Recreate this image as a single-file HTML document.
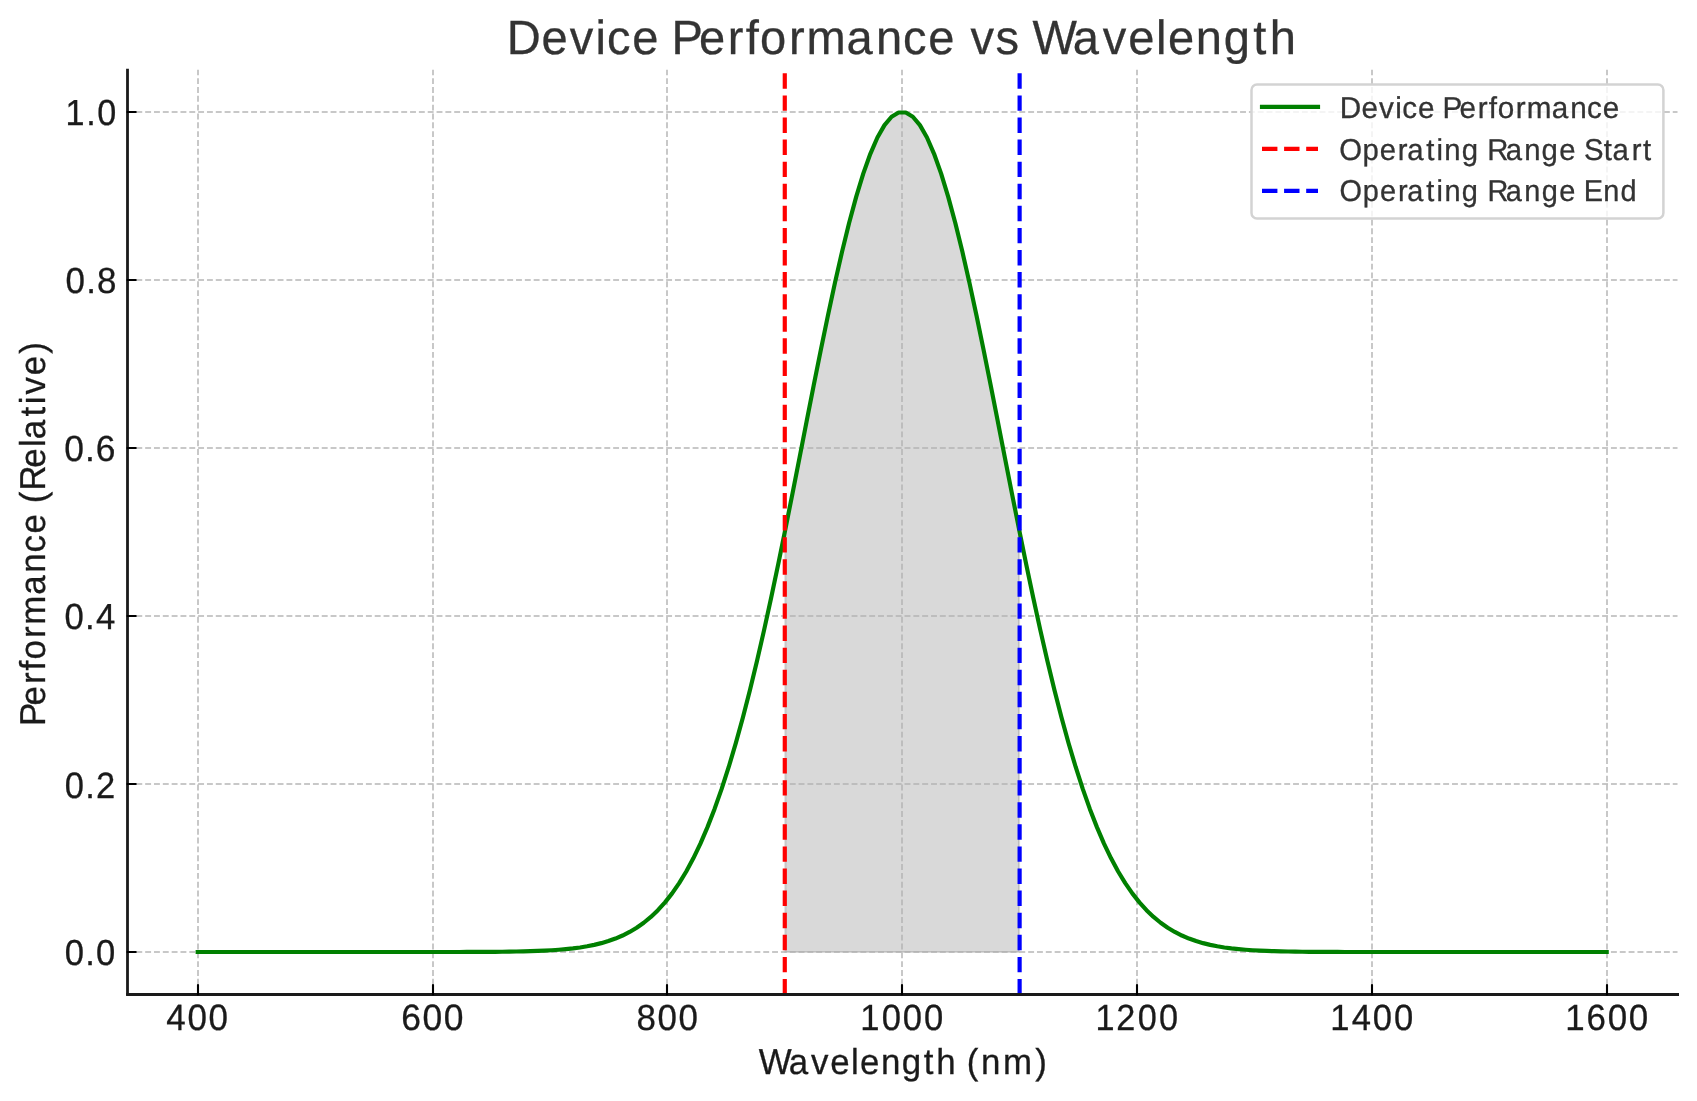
<!DOCTYPE html>
<html><head><meta charset="utf-8"><style>
html,body{margin:0;padding:0;background:#fff;}
body{width:1697px;height:1101px;overflow:hidden;}
svg{display:block;font-family:"Liberation Sans",sans-serif;will-change:transform;text-rendering:geometricPrecision;}
</style></head><body>
<svg width="1697" height="1101" viewBox="0 0 1697 1101">
<rect width="1697" height="1101" fill="#fff"/>
<polygon points="785.38,529.07 792.46,493.55 799.54,457.54 806.62,421.38 813.70,385.44 820.78,350.11 827.86,315.80 834.94,282.90 842.02,251.85 849.10,223.04 856.18,196.85 863.26,173.66 870.34,153.80 877.42,137.54 884.50,125.13 891.58,116.75 898.66,112.53 905.74,112.53 912.82,116.75 919.90,125.13 926.98,137.54 934.06,153.80 941.14,173.66 948.22,196.85 955.31,223.04 962.39,251.85 969.47,282.90 976.55,315.80 983.63,350.11 990.71,385.44 997.79,421.38 1004.87,457.54 1011.95,493.55 1019.03,529.07 1019.03,952.00 785.38,952.00" fill="rgb(128,128,128)" fill-opacity="0.3" stroke="rgb(128,128,128)" stroke-opacity="0.3" stroke-width="2.08"/>
<path d="M198.00 993.6V69.7" stroke="rgba(176,176,176,0.70)" stroke-width="2.0" stroke-dasharray="5.9 2.93" fill="none"/>
<path d="M433.00 993.6V69.7" stroke="rgba(176,176,176,0.70)" stroke-width="2.0" stroke-dasharray="5.9 2.93" fill="none"/>
<path d="M667.00 993.6V69.7" stroke="rgba(176,176,176,0.70)" stroke-width="2.0" stroke-dasharray="5.9 2.93" fill="none"/>
<path d="M902.00 993.6V69.7" stroke="rgba(176,176,176,0.70)" stroke-width="2.0" stroke-dasharray="5.9 2.93" fill="none"/>
<path d="M1137.00 993.6V69.7" stroke="rgba(176,176,176,0.70)" stroke-width="2.0" stroke-dasharray="5.9 2.93" fill="none"/>
<path d="M1372.00 993.6V69.7" stroke="rgba(176,176,176,0.70)" stroke-width="2.0" stroke-dasharray="5.9 2.93" fill="none"/>
<path d="M1607.00 993.6V69.7" stroke="rgba(176,176,176,0.70)" stroke-width="2.0" stroke-dasharray="5.9 2.93" fill="none"/>
<path d="M127.5 952.00H1677.5" stroke="rgba(176,176,176,0.70)" stroke-width="2.0" stroke-dasharray="5.9 2.93" fill="none"/>
<path d="M127.5 784.00H1677.5" stroke="rgba(176,176,176,0.70)" stroke-width="2.0" stroke-dasharray="5.9 2.93" fill="none"/>
<path d="M127.5 616.00H1677.5" stroke="rgba(176,176,176,0.70)" stroke-width="2.0" stroke-dasharray="5.9 2.93" fill="none"/>
<path d="M127.5 448.00H1677.5" stroke="rgba(176,176,176,0.70)" stroke-width="2.0" stroke-dasharray="5.9 2.93" fill="none"/>
<path d="M127.5 280.00H1677.5" stroke="rgba(176,176,176,0.70)" stroke-width="2.0" stroke-dasharray="5.9 2.93" fill="none"/>
<path d="M127.5 112.00H1677.5" stroke="rgba(176,176,176,0.70)" stroke-width="2.0" stroke-dasharray="5.9 2.93" fill="none"/>
<path d="M197.70 952.00 L204.78 952.00 L211.86 952.00 L218.94 952.00 L226.02 952.00 L233.10 952.00 L240.18 952.00 L247.26 952.00 L254.34 952.00 L261.42 952.00 L268.50 952.00 L275.58 952.00 L282.67 952.00 L289.75 952.00 L296.83 952.00 L303.91 952.00 L310.99 952.00 L318.07 952.00 L325.15 952.00 L332.23 952.00 L339.31 952.00 L346.39 952.00 L353.47 952.00 L360.55 952.00 L367.63 952.00 L374.71 952.00 L381.79 952.00 L388.87 952.00 L395.95 952.00 L403.03 952.00 L410.11 952.00 L417.19 951.99 L424.27 951.99 L431.35 951.99 L438.43 951.98 L445.51 951.98 L452.60 951.97 L459.68 951.96 L466.76 951.94 L473.84 951.92 L480.92 951.89 L488.00 951.85 L495.08 951.80 L502.16 951.73 L509.24 951.64 L516.32 951.53 L523.40 951.38 L530.48 951.19 L537.56 950.95 L544.64 950.64 L551.72 950.25 L558.80 949.76 L565.88 949.15 L572.96 948.39 L580.04 947.45 L587.12 946.29 L594.20 944.87 L601.28 943.15 L608.36 941.06 L615.44 938.55 L622.53 935.54 L629.61 931.97 L636.69 927.74 L643.77 922.76 L650.85 916.94 L657.93 910.18 L665.01 902.36 L672.09 893.38 L679.17 883.11 L686.25 871.46 L693.33 858.31 L700.41 843.57 L707.49 827.13 L714.57 808.92 L721.65 788.88 L728.73 766.98 L735.81 743.18 L742.89 717.51 L749.97 690.01 L757.05 660.75 L764.13 629.86 L771.21 597.48 L778.29 563.81 L785.38 529.07 L792.46 493.55 L799.54 457.54 L806.62 421.38 L813.70 385.44 L820.78 350.11 L827.86 315.80 L834.94 282.90 L842.02 251.85 L849.10 223.04 L856.18 196.85 L863.26 173.66 L870.34 153.80 L877.42 137.54 L884.50 125.13 L891.58 116.75 L898.66 112.53 L905.74 112.53 L912.82 116.75 L919.90 125.13 L926.98 137.54 L934.06 153.80 L941.14 173.66 L948.22 196.85 L955.31 223.04 L962.39 251.85 L969.47 282.90 L976.55 315.80 L983.63 350.11 L990.71 385.44 L997.79 421.38 L1004.87 457.54 L1011.95 493.55 L1019.03 529.07 L1026.11 563.81 L1033.19 597.48 L1040.27 629.86 L1047.35 660.75 L1054.43 690.01 L1061.51 717.51 L1068.59 743.18 L1075.67 766.98 L1082.75 788.88 L1089.83 808.92 L1096.91 827.13 L1103.99 843.57 L1111.07 858.31 L1118.15 871.46 L1125.24 883.11 L1132.32 893.38 L1139.40 902.36 L1146.48 910.18 L1153.56 916.94 L1160.64 922.76 L1167.72 927.74 L1174.80 931.97 L1181.88 935.54 L1188.96 938.55 L1196.04 941.06 L1203.12 943.15 L1210.20 944.87 L1217.28 946.29 L1224.36 947.45 L1231.44 948.39 L1238.52 949.15 L1245.60 949.76 L1252.68 950.25 L1259.76 950.64 L1266.84 950.95 L1273.92 951.19 L1281.00 951.38 L1288.09 951.53 L1295.17 951.64 L1302.25 951.73 L1309.33 951.80 L1316.41 951.85 L1323.49 951.89 L1330.57 951.92 L1337.65 951.94 L1344.73 951.96 L1351.81 951.97 L1358.89 951.98 L1365.97 951.98 L1373.05 951.99 L1380.13 951.99 L1387.21 951.99 L1394.29 952.00 L1401.37 952.00 L1408.45 952.00 L1415.53 952.00 L1422.61 952.00 L1429.69 952.00 L1436.77 952.00 L1443.85 952.00 L1450.93 952.00 L1458.02 952.00 L1465.10 952.00 L1472.18 952.00 L1479.26 952.00 L1486.34 952.00 L1493.42 952.00 L1500.50 952.00 L1507.58 952.00 L1514.66 952.00 L1521.74 952.00 L1528.82 952.00 L1535.90 952.00 L1542.98 952.00 L1550.06 952.00 L1557.14 952.00 L1564.22 952.00 L1571.30 952.00 L1578.38 952.00 L1585.46 952.00 L1592.54 952.00 L1599.62 952.00 L1606.70 952.00" stroke="#008000" stroke-width="4.17" fill="none" stroke-linecap="square" stroke-linejoin="round"/>
<path d="M784.78 994.4V69.7" stroke="#ff0000" stroke-width="4.17" stroke-dasharray="15.42 6.67" fill="none"/>
<path d="M1019.62 994.4V69.7" stroke="#0000ff" stroke-width="4.17" stroke-dasharray="15.42 6.67" fill="none"/>
<path d="M127.5 68.7V995.8" stroke="#1a1a1a" stroke-width="2.8" fill="none"/>
<path d="M126.2 994.5H1679" stroke="#1a1a1a" stroke-width="2.8" fill="none"/>
<path d="M198.00 994.5V985.0" stroke="#000" stroke-width="2.1" fill="none" stroke-linecap="round"/>
<path d="M433.00 994.5V985.0" stroke="#000" stroke-width="2.1" fill="none" stroke-linecap="round"/>
<path d="M667.00 994.5V985.0" stroke="#000" stroke-width="2.1" fill="none" stroke-linecap="round"/>
<path d="M902.00 994.5V985.0" stroke="#000" stroke-width="2.1" fill="none" stroke-linecap="round"/>
<path d="M1137.00 994.5V985.0" stroke="#000" stroke-width="2.1" fill="none" stroke-linecap="round"/>
<path d="M1372.00 994.5V985.0" stroke="#000" stroke-width="2.1" fill="none" stroke-linecap="round"/>
<path d="M1607.00 994.5V985.0" stroke="#000" stroke-width="2.1" fill="none" stroke-linecap="round"/>
<path d="M127.5 952.00H135.8" stroke="#000" stroke-width="2.1" fill="none" stroke-linecap="round"/>
<path d="M127.5 784.00H135.8" stroke="#000" stroke-width="2.1" fill="none" stroke-linecap="round"/>
<path d="M127.5 616.00H135.8" stroke="#000" stroke-width="2.1" fill="none" stroke-linecap="round"/>
<path d="M127.5 448.00H135.8" stroke="#000" stroke-width="2.1" fill="none" stroke-linecap="round"/>
<path d="M127.5 280.00H135.8" stroke="#000" stroke-width="2.1" fill="none" stroke-linecap="round"/>
<path d="M127.5 112.00H135.8" stroke="#000" stroke-width="2.1" fill="none" stroke-linecap="round"/>
<text transform="translate(68.40 124.75) scale(0.9417 1)" x="-2.98 18.98 30.67" font-size="36.29" fill="#1a1a1a" stroke="#1a1a1a" stroke-width="0.3">1.0</text>
<text transform="translate(67.02 292.65) scale(0.9639 1)" x="-1.46 19.93 31.23" font-size="36.29" fill="#1a1a1a" stroke="#1a1a1a" stroke-width="0.3">0.8</text>
<text transform="translate(65.84 460.65) scale(0.9750 1)" x="-1.56 19.68 30.81" font-size="36.35" fill="#1a1a1a" stroke="#1a1a1a" stroke-width="0.3">0.6</text>
<text transform="translate(65.84 628.65) scale(0.9597 1)" x="-1.42 19.98 31.31" font-size="36.18" fill="#1a1a1a" stroke="#1a1a1a" stroke-width="0.3">0.4</text>
<text transform="translate(65.84 797.55) scale(0.9444 1)" x="-1.29 20.59 31.84" font-size="36.55" fill="#1a1a1a" stroke="#1a1a1a" stroke-width="0.3">0.2</text>
<text transform="translate(66.08 965.45) scale(0.9601 1)" x="-1.42 19.90 31.21" font-size="36.07" fill="#1a1a1a" stroke="#1a1a1a" stroke-width="0.3">0.0</text>
<text transform="translate(167.07 1029.85) scale(0.9583 1)" x="-0.85 21.25 43.33" font-size="36.54" fill="#1a1a1a" stroke="#1a1a1a" stroke-width="0.3">400</text>
<text transform="translate(402.97 1029.85) scale(0.9694 1)" x="-1.67 20.17 42.00" font-size="36.54" fill="#1a1a1a" stroke="#1a1a1a" stroke-width="0.3">600</text>
<text transform="translate(637.97 1029.85) scale(0.9614 1)" x="-1.51 20.39 42.29" font-size="36.35" fill="#1a1a1a" stroke="#1a1a1a" stroke-width="0.3">800</text>
<text transform="translate(863.26 1029.85) scale(0.9486 1)" x="-3.05 19.40 41.68 63.95" font-size="36.48" fill="#1a1a1a" stroke="#1a1a1a" stroke-width="0.3">1000</text>
<text transform="translate(1098.25 1029.85) scale(0.9397 1)" x="-2.98 19.21 42.17 64.66" font-size="36.48" fill="#1a1a1a" stroke="#1a1a1a" stroke-width="0.3">1200</text>
<text transform="translate(1333.25 1029.85) scale(0.9485 1)" x="-3.05 19.40 41.69 63.96" font-size="36.48" fill="#1a1a1a" stroke="#1a1a1a" stroke-width="0.3">1400</text>
<text transform="translate(1568.25 1029.85) scale(0.9568 1)" x="-3.11 19.15 41.24 63.32" font-size="36.48" fill="#1a1a1a" stroke="#1a1a1a" stroke-width="0.3">1600</text>
<text transform="translate(759.80 1074.15) scale(0.9698 1)" x="-1.15 29.91 52.90 72.70 94.00 103.40 124.89 146.39 169.16 181.92 181.92 213.52 228.10 250.76 284.01" font-size="35.96" fill="#1a1a1a" stroke="#1a1a1a" stroke-width="0.3">Wavelength (nm)</text>
<text transform="translate(44.71 721.70) rotate(-90) scale(0.9694 1)" x="-4.43 16.73 39.03 52.93 64.06 86.36 99.96 130.88 153.71 174.59 194.11 194.11 225.40 238.53 262.02 283.35 291.37 314.86 327.50 337.46 357.28 379.44" font-size="35.99" fill="#1a1a1a" stroke="#1a1a1a" stroke-width="0.3">Performance (Relative)</text>
<text transform="translate(511.00 53.75) scale(0.9803 1)" x="-4.25 31.21 59.87 86.29 97.85 123.58 123.58 163.67 191.66 221.11 239.47 254.08 283.54 301.45 342.29 372.41 399.97 425.70 425.70 468.79 494.35 494.35 532.06 573.12 603.52 629.65 657.87 670.20 698.58 726.97 757.12 773.90" font-size="48.01" fill="#333333" stroke="#333333" stroke-width="0.3">Device Performance vs Wavelength</text>
<rect x="1251.5" y="84.4" width="411.9" height="134" rx="5.5" ry="5.5" fill="rgba(255,255,255,0.8)" stroke="#d3d3d3" stroke-width="2.5"/>
<path d="M1262 106.9H1318" stroke="#008000" stroke-width="4.17" stroke-linecap="square"/>
<path d="M1262 148.9H1318" stroke="#ff0000" stroke-width="4.17" stroke-dasharray="15.42 6.67"/>
<path d="M1262 190.9H1318" stroke="#0000ff" stroke-width="4.17" stroke-dasharray="15.42 6.67"/>
<text transform="translate(1342.40 117.65) scale(0.9870 1)" x="-2.72 19.28 37.05 53.45 60.59 76.53 76.53 101.36 118.74 137.02 148.40 157.43 175.71 186.73 212.06 230.74 247.82 263.77" font-size="30.05" fill="#333333" stroke="#333333" stroke-width="0.3">Device Performance</text>
<text transform="translate(1341.30 159.55) scale(0.9732 1)" x="-2.03 21.81 39.54 58.07 67.72 87.25 97.75 105.84 123.71 123.71 149.95 168.96 187.92 205.80 223.90 223.90 249.28 269.58 278.77 298.39 310.06" font-size="30.10" fill="#333333" stroke="#333333" stroke-width="0.3">Operating Range Start</text>
<text transform="translate(1341.30 200.85) scale(0.9603 1)" x="-1.90 22.22 40.19 58.94 68.76 88.50 99.12 107.38 125.50 125.50 152.14 171.37 190.59 208.70 227.05 227.05 252.51 272.69 290.80" font-size="30.11" fill="#333333" stroke="#333333" stroke-width="0.3">Operating Range End</text>
</svg>
</body></html>
